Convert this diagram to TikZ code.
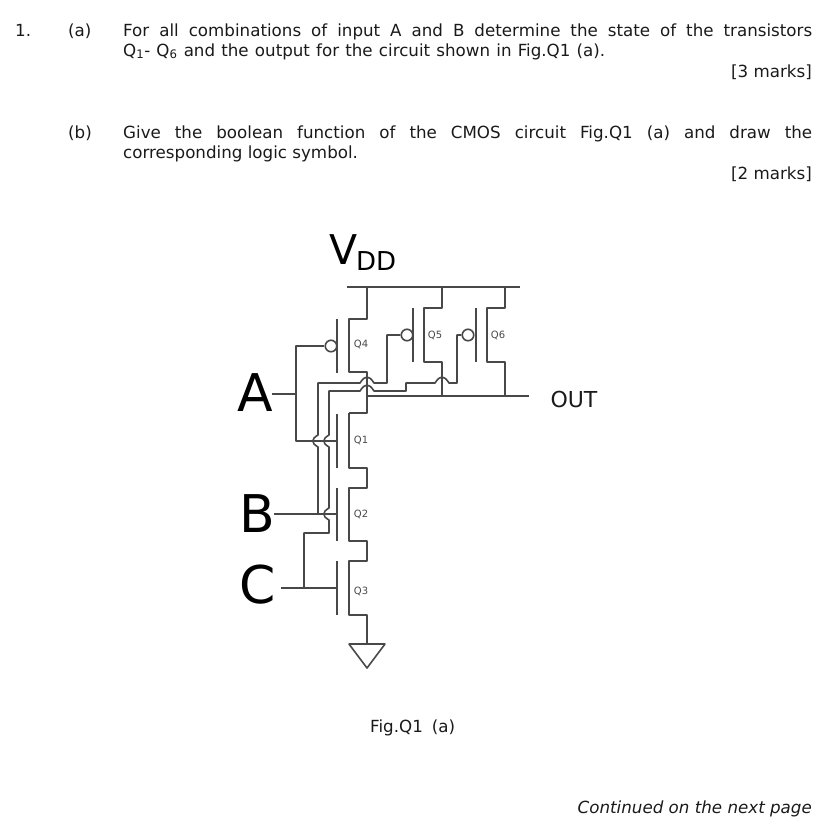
\documentclass[tikz,border=0pt]{standalone}
\usepackage{fontspec}
\setmainfont{DejaVu Sans}
\definecolor{wirecol}{HTML}{484848}
\definecolor{textcol}{HTML}{1A1A1A}
% hops of a wire over another wire
\newcommand{\hhop}[2]{-- ( #1-7, #2 ) .. controls ( #1-2, #2-8 ) and ( #1+2, #2-8 ) .. ( #1+7, #2 )}
\newcommand{\vhop}[2]{-- ( #1, #2+6 ) .. controls ( #1-7, #2+2 ) and ( #1-7, #2-2 ) .. ( #1, #2-6 )}
\tikzset{
	wire/.style = { draw = wirecol, line width = 1.6pt, line join = round },
	gatebar/.style = { draw = wirecol, line width = 1.6pt },
	bubble/.style = { draw = wirecol, line width = 1.6pt, circle, inner sep = 0pt, minimum size = 11.5pt },
	txt/.style = { anchor = base west, inner sep = 0pt, text = textcol, font = \fontsize{16.7}{20}\selectfont },
	txtright/.style = { txt, anchor = base east },
	qlabel/.style = { inner sep = 0pt, text = wirecol, font = \fontsize{10}{12}\selectfont },
	biglabel/.style = { inner sep = 0pt, anchor = base, text = black, font = \fontsize{52}{60}\selectfont }
}
\begin{document}
\begin{tikzpicture}[x=1pt,y=-1pt]
	\useasboundingbox ( 0, 0 ) rectangle ( 840, 839 );

	% question text
	\node [txt] (num) at ( 15, 36 ) {1.};
	\node [txt] (parta) at ( 68, 36 ) {(a)};
	\node [txt] (linea) at ( 123, 36 ) {\makebox[689pt][s]{For all combinations of input A and B determine the state of the transistors}};
	\node [txt] (lineb) at ( 123, 56 ) {\makebox[482pt][s]{Q\textsubscript{1}- Q\textsubscript{6} and the output for the circuit shown in Fig.Q1 (a).}};
	\node [txtright] (marksa) at ( 812, 77 ) {[3 marks]};
	\node [txt] (partb) at ( 68, 138 ) {(b)};
	\node [txt] (linec) at ( 123, 138 ) {\makebox[689pt][s]{Give the boolean function of the CMOS circuit Fig.Q1 (a) and draw the}};
	\node [txt] (lined) at ( 123, 158 ) {corresponding logic symbol.};
	\node [txtright] (marksb) at ( 812, 179 ) {[2 marks]};
	\node [txt] (caption) at ( 370, 732 ) {\makebox[85pt][s]{Fig.Q1 (a)}};
	\node [txtright] (cont) at ( 812, 813 ) {\itshape Continued on the next page};

	% circuit labels
	\node [inner sep = 0pt, anchor = base west, font = \fontsize{41}{48}\selectfont] (vdd) at ( 329, 264 ) {V};
	\node [inner sep = 0pt, anchor = base west, font = \fontsize{26}{30}\selectfont] (dd) at ( 356, 270 ) {DD};
	\node [biglabel] (ina) at ( 255, 411 ) {A};
	\node [biglabel] (inb) at ( 257, 532 ) {B};
	\node [biglabel] (inc) at ( 258, 603 ) {C};
	\node [inner sep = 0pt, anchor = base, text = textcol, font = \fontsize{22}{26}\selectfont] (out) at ( 574, 407 ) {OUT};
	\node [qlabel] (q4) at ( 361, 344 ) {Q4};
	\node [qlabel] (q5) at ( 435, 335 ) {Q5};
	\node [qlabel] (q6) at ( 498, 335 ) {Q6};
	\node [qlabel] (q1) at ( 361, 440 ) {Q1};
	\node [qlabel] (q2) at ( 361, 514 ) {Q2};
	\node [qlabel] (q3) at ( 361, 591 ) {Q3};

	% rails and junctions
	\coordinate (ja) at ( 296, 394 );
	\coordinate (jb) at ( 318, 514 );
	\coordinate (jc) at ( 304, 588 );
	\coordinate (joutr) at ( 529, 396 );
	\draw [wire] ( 347, 287 ) -- ( 520, 287 );
	\draw [wire] ( 367, 396 ) -- (joutr);

	% pull-up Q4, Q5, Q6
	\draw [wire] ( 367, 287 ) -- ( 367, 319 ) -- ( 349, 319 ) -- ( 349, 372 ) -- ( 367, 372 ) -- ( 367, 413 ) -- ( 349, 413 );
	\draw [wire] ( 442, 287 ) -- ( 442, 308 ) -- ( 424, 308 ) -- ( 424, 362 ) -- ( 442, 362 ) -- ( 442, 396 );
	\draw [wire] ( 505, 287 ) -- ( 505, 308 ) -- ( 487, 308 ) -- ( 487, 362 ) -- ( 505, 362 ) -- ( 505, 396 );
	\draw [gatebar] ( 337, 319 ) -- ( 337, 373 );
	\draw [gatebar] ( 413, 308 ) -- ( 413, 362 );
	\draw [gatebar] ( 476, 308 ) -- ( 476, 362 );
	\node [bubble] (b4) at ( 331, 346 ) {};
	\node [bubble] (b5) at ( 407, 335 ) {};
	\node [bubble] (b6) at ( 468, 335 ) {};

	% pull-down Q1, Q2, Q3
	\draw [wire] ( 349, 413 ) -- ( 349, 468 ) -- ( 367, 468 ) -- ( 367, 488 ) -- ( 349, 488 ) -- ( 349, 541 ) -- ( 367, 541 ) -- ( 367, 561 ) -- ( 349, 561 ) -- ( 349, 615 ) -- ( 367, 615 ) -- ( 367, 644 );
	\draw [gatebar] ( 337, 414 ) -- ( 337, 468 );
	\draw [gatebar] ( 337, 488 ) -- ( 337, 541 );
	\draw [gatebar] ( 337, 561 ) -- ( 337, 615 );
	\draw [wire] ( 349, 644 ) -- ( 385, 644 ) -- ( 367, 668 ) -- cycle;

	% input A
	\draw [wire] (b4.west) -- ( 296, 346 ) -- ( 296, 441 ) -- ( 337, 441 );
	\draw [wire] ( 272, 394 ) -- (ja);

	% input B
	\draw [wire] ( 274, 514 ) -- ( 337, 514 );
	\draw [wire] (jb) \vhop{318}{441} -- ( 318, 383 ) \hhop{367}{383} -- ( 387, 383 ) -- ( 387, 335 ) -- (b5.west);

	% input C
	\draw [wire] ( 281, 588 ) -- ( 337, 588 );
	\draw [wire] (jc) -- ( 304, 533 ) -- ( 329, 533 ) \vhop{329}{514} \vhop{329}{441} -- ( 329, 391 ) \hhop{367}{391} -- ( 406, 391 ) -- ( 406, 383 ) \hhop{442}{383} -- ( 457, 383 ) -- ( 457, 335 ) -- (b6.west);
\end{tikzpicture}
\end{document}
